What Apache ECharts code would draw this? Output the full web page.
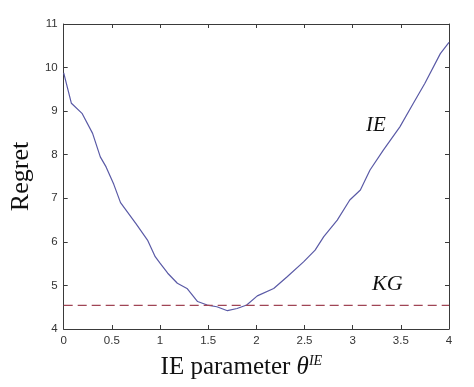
<!DOCTYPE html>
<html><head><meta charset="utf-8">
<script src="https://cdn.jsdelivr.net/npm/echarts@6/dist/echarts.min.js"></script>
<style>html,body{margin:0;padding:0;background:#fff}#c{width:474px;height:387px}</style>
</head><body><div id="c"></div>
<script>
var ieX = [0, 0.08, 0.19, 0.30, 0.38, 0.44, 0.52, 0.59, 0.75, 0.87, 0.95, 1.0, 1.08, 1.18, 1.28, 1.39, 1.49, 1.59, 1.70, 1.80, 1.90, 2.01, 2.18, 2.32, 2.49, 2.61, 2.70, 2.84, 2.97, 3.08, 3.18, 3.32, 3.49, 3.63, 3.75, 3.91, 4.0];
var ieY = [9.88, 9.18, 8.95, 8.49, 7.95, 7.72, 7.32, 6.90, 6.42, 6.04, 5.66, 5.51, 5.28, 5.05, 4.93, 4.63, 4.55, 4.51, 4.42, 4.47, 4.55, 4.76, 4.93, 5.20, 5.54, 5.81, 6.12, 6.50, 6.96, 7.19, 7.65, 8.11, 8.64, 9.18, 9.64, 10.32, 10.58];
var kgX = [0, 4];
var kgY = [4.54, 4.54];
var xTicks = [0, 0.5, 1, 1.5, 2, 2.5, 3, 3.5, 4];
var yTicks = [4, 5, 6, 7, 8, 9, 10, 11];

var chart = echarts.init(document.getElementById('c'));
var axisCol = '#3a3a3a';
var serif = 'Liberation Serif, Times New Roman, serif';
var tickLbl = {color: '#333', fontFamily: 'Liberation Sans, Arial, sans-serif', fontSize: 11.5};
function pairs(xs, ys){ return xs.map(function(x,i){return [x, ys[i]];}); }
chart.setOption({
  animation: false,
  backgroundColor: '#fff',
  grid: {left: 63, right: 25, top: 24, bottom: 58},
  xAxis: [
    {type: 'value', min: 0, max: 4, interval: 0.5,
     axisLine: {onZero: false, lineStyle: {color: axisCol, width: 1}},
     axisTick: {inside: true, length: 4, lineStyle: {color: axisCol}},
     axisLabel: Object.assign({margin: 6, formatter: function(v){return xTicks.indexOf(v) >= 0 ? String(v) : '';}}, tickLbl),
     splitLine: {show: false},
     name: '{a|IE parameter }{t|θ}{s|IE}', nameLocation: 'middle', nameGap: 25,
     nameTextStyle: {padding: [0, 30, 0, 0], rich: {
       a: {fontFamily: serif, fontSize: 25, color: '#111'},
       t: {fontFamily: serif, fontStyle: 'italic', fontSize: 25, color: '#111'},
       s: {fontFamily: serif, fontStyle: 'italic', fontSize: 14, color: '#111', verticalAlign: 'top', padding: [0,0,13,0]}
     }}},
    {type: 'value', position: 'top', min: 0, max: 4, interval: 0.5,
     axisLine: {onZero: false, lineStyle: {color: axisCol, width: 1}},
     axisTick: {inside: true, length: 4, lineStyle: {color: axisCol}},
     axisLabel: {show: false}, splitLine: {show: false}}
  ],
  yAxis: [
    {type: 'value', min: 4, max: 11, interval: 1,
     axisLine: {show: true, onZero: false, lineStyle: {color: axisCol, width: 1}},
     axisTick: {show: true, inside: true, length: 4, lineStyle: {color: axisCol}},
     axisLabel: Object.assign({margin: 6, formatter: function(v){return yTicks.indexOf(v) >= 0 ? String(v) : '';}}, tickLbl),
     splitLine: {show: false},
     name: 'Regret', nameLocation: 'middle', nameGap: 28,
     nameTextStyle: {fontFamily: serif, fontSize: 26, color: '#111'}},
    {type: 'value', position: 'right', min: 4, max: 11, interval: 1,
     axisLine: {show: true, onZero: false, lineStyle: {color: axisCol, width: 1}},
     axisTick: {show: true, inside: true, length: 4, lineStyle: {color: axisCol}},
     axisLabel: {show: false}, splitLine: {show: false}}
  ],
  series: [
    {type: 'line', name: 'IE', data: pairs(ieX, ieY), symbol: 'none', smooth: false,
     lineStyle: {color: '#5a5aa6', width: 1.2}},
    {type: 'line', name: 'KG', data: pairs(kgX, kgY), symbol: 'none',
     lineStyle: {color: '#a04555', width: 1.3, type: [9, 5]}}
  ],
  graphic: [
    {type: 'text', left: 366, top: 115, style: {text: 'IE', fontFamily: serif, fontStyle: 'italic', fontSize: 21, fill: '#111'}},
    {type: 'text', left: 372, top: 273, style: {text: 'KG', fontFamily: serif, fontStyle: 'italic', fontSize: 22, fill: '#111'}}
  ]
});
</script></body></html>
